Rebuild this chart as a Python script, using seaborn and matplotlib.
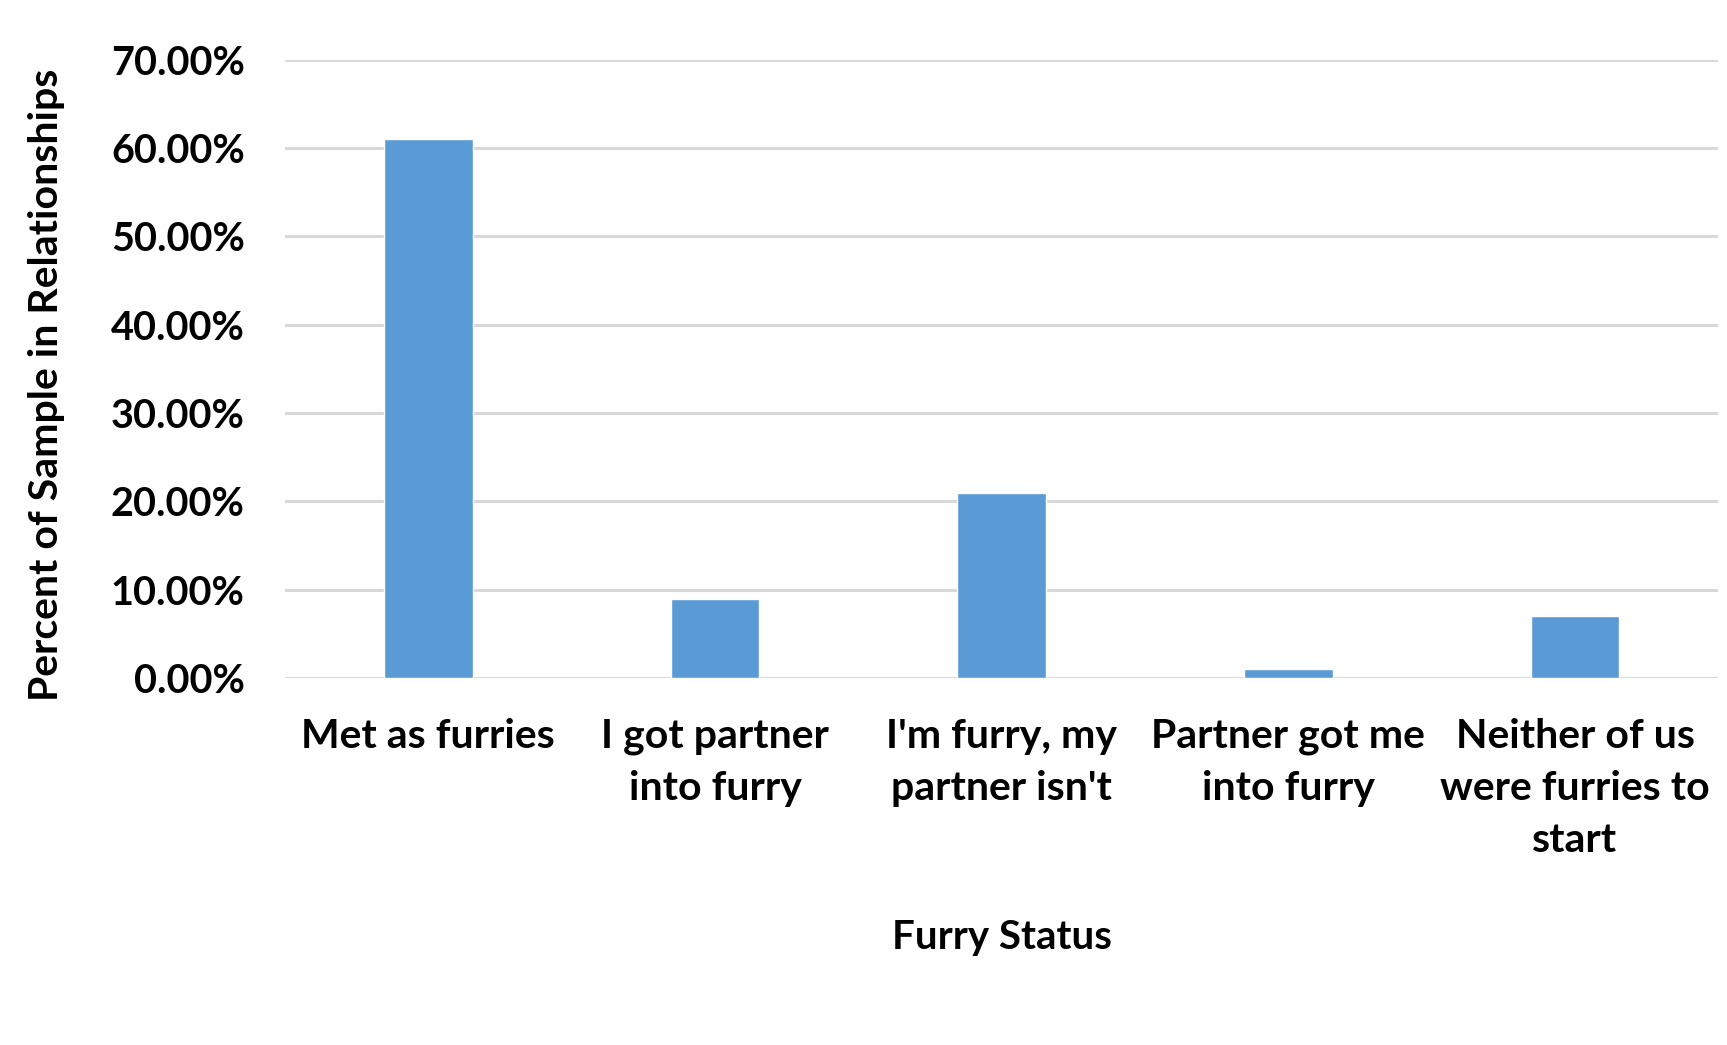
import numpy as np
import pandas as pd
import matplotlib
matplotlib.use("Agg")
import matplotlib.pyplot as plt
from matplotlib.ticker import FuncFormatter
import seaborn as sns

# data
categories = ["Met as furries",
              "I got partner\ninto furry",
              "I'm furry, my\npartner isn't",
              "Partner got me\ninto furry",
              "Neither of us\nwere furries to\nstart"]
percent = [61.0, 9.0, 21.0, 1.0, 7.0]
yticks = [0, 10, 20, 30, 40, 50, 60, 70]

df = pd.DataFrame({"status": categories, "pct": percent})

sns.set_style("white")
plt.rcParams['font.family'] = ['Lato', 'DejaVu Sans']
plt.rcParams['font.weight'] = 'bold'
plt.rcParams['text.color'] = 'black'

fig = plt.figure(figsize=(17.27, 10.45), dpi=100)
ax = fig.add_axes([0.165, 0.351, 0.830, 0.592])

sns.barplot(data=df, x="status", y="pct", color="#5b9bd5", width=0.31,
            saturation=1, ax=ax, zorder=3)

ax.set_ylim(0, 70)
ax.set_xlim(-0.5, len(categories) - 0.5)
ax.set_yticks(yticks)
ax.yaxis.set_major_formatter(FuncFormatter(lambda v, p: "{:.2f}%".format(v)))
ax.yaxis.grid(True, color="#d9d9d9", linewidth=2.2, zorder=0)
ax.set_axisbelow(True)
for s in ax.spines.values():
    s.set_visible(False)

ax.tick_params(axis="y", length=0, pad=29, labelsize=28.5, labelcolor="black")
ax.tick_params(axis="x", length=0, pad=29, labelsize=29.5, labelcolor="black")
for lab in ax.get_xticklabels():
    lab.set_linespacing(1.5)
    lab.set_verticalalignment("top")

ax.set_xlabel("Furry Status", fontsize=29, fontweight="bold", labelpad=43,
              color="black")
ax.set_ylabel("Percent of Sample in Relationships", fontsize=29.5,
              fontweight="bold", labelpad=33, color="black")
ax.yaxis.label.set_y(0.475)

fig.savefig("out.png", dpi=100, facecolor="white")
